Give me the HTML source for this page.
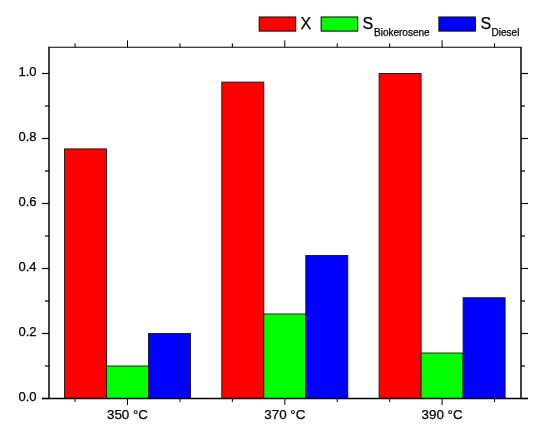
<!DOCTYPE html>
<html><head><meta charset="utf-8"><title>Chart</title>
<style>html,body{margin:0;padding:0;background:#fff;overflow:hidden}</style></head>
<body>
<svg width="550" height="429" viewBox="0 0 550 429" style="display:block">
<rect width="550" height="429" fill="#fff"/>
<rect x="64.50" y="148.90" width="42.00" height="249.60" fill="#ff0000" stroke="#141414" stroke-width="0.9"/>
<rect x="106.50" y="366.00" width="42.00" height="32.50" fill="#00ff00" stroke="#141414" stroke-width="0.9"/>
<rect x="148.50" y="333.50" width="42.00" height="65.00" fill="#0000ff" stroke="#141414" stroke-width="0.9"/>
<rect x="221.80" y="82.11" width="42.00" height="316.39" fill="#ff0000" stroke="#141414" stroke-width="0.9"/>
<rect x="263.80" y="314.00" width="42.00" height="84.50" fill="#00ff00" stroke="#141414" stroke-width="0.9"/>
<rect x="305.80" y="255.50" width="42.00" height="143.00" fill="#0000ff" stroke="#141414" stroke-width="0.9"/>
<rect x="379.10" y="73.50" width="42.00" height="325.00" fill="#ff0000" stroke="#141414" stroke-width="0.9"/>
<rect x="421.10" y="353.00" width="42.00" height="45.50" fill="#00ff00" stroke="#141414" stroke-width="0.9"/>
<rect x="463.10" y="297.75" width="42.00" height="100.75" fill="#0000ff" stroke="#141414" stroke-width="0.9"/>
<g stroke="#000" fill="none">
<line x1="48.25" y1="47.3" x2="521.75" y2="47.3" stroke-width="1.1"/>
<line x1="42" y1="398.5" x2="528" y2="398.5" stroke-width="1.3"/>
<line x1="49" y1="47.3" x2="49" y2="398.5" stroke-width="1.5"/>
<line x1="521" y1="47.3" x2="521" y2="398.5" stroke-width="1.5"/>
<line x1="75.07" y1="47.3" x2="75.07" y2="43.3" stroke-width="1"/>
<line x1="75.07" y1="398.5" x2="75.07" y2="402.0" stroke-width="1"/>
<line x1="127.50" y1="47.3" x2="127.50" y2="40.3" stroke-width="1"/>
<line x1="127.50" y1="398.5" x2="127.50" y2="405.0" stroke-width="1"/>
<line x1="179.93" y1="47.3" x2="179.93" y2="43.3" stroke-width="1"/>
<line x1="179.93" y1="398.5" x2="179.93" y2="402.0" stroke-width="1"/>
<line x1="232.37" y1="47.3" x2="232.37" y2="43.3" stroke-width="1"/>
<line x1="232.37" y1="398.5" x2="232.37" y2="402.0" stroke-width="1"/>
<line x1="284.80" y1="47.3" x2="284.80" y2="40.3" stroke-width="1"/>
<line x1="284.80" y1="398.5" x2="284.80" y2="405.0" stroke-width="1"/>
<line x1="337.23" y1="47.3" x2="337.23" y2="43.3" stroke-width="1"/>
<line x1="337.23" y1="398.5" x2="337.23" y2="402.0" stroke-width="1"/>
<line x1="389.67" y1="47.3" x2="389.67" y2="43.3" stroke-width="1"/>
<line x1="389.67" y1="398.5" x2="389.67" y2="402.0" stroke-width="1"/>
<line x1="442.10" y1="47.3" x2="442.10" y2="40.3" stroke-width="1"/>
<line x1="442.10" y1="398.5" x2="442.10" y2="405.0" stroke-width="1"/>
<line x1="494.53" y1="47.3" x2="494.53" y2="43.3" stroke-width="1"/>
<line x1="494.53" y1="398.5" x2="494.53" y2="402.0" stroke-width="1"/>
<line x1="49" y1="398.50" x2="42" y2="398.50" stroke-width="1.2"/>
<line x1="521" y1="398.50" x2="528" y2="398.50" stroke-width="1.2"/>
<line x1="49" y1="366.00" x2="45" y2="366.00" stroke-width="1.2"/>
<line x1="521" y1="366.00" x2="525" y2="366.00" stroke-width="1.2"/>
<line x1="49" y1="333.50" x2="42" y2="333.50" stroke-width="1.2"/>
<line x1="521" y1="333.50" x2="528" y2="333.50" stroke-width="1.2"/>
<line x1="49" y1="301.00" x2="45" y2="301.00" stroke-width="1.2"/>
<line x1="521" y1="301.00" x2="525" y2="301.00" stroke-width="1.2"/>
<line x1="49" y1="268.50" x2="42" y2="268.50" stroke-width="1.2"/>
<line x1="521" y1="268.50" x2="528" y2="268.50" stroke-width="1.2"/>
<line x1="49" y1="236.00" x2="45" y2="236.00" stroke-width="1.2"/>
<line x1="521" y1="236.00" x2="525" y2="236.00" stroke-width="1.2"/>
<line x1="49" y1="203.50" x2="42" y2="203.50" stroke-width="1.2"/>
<line x1="521" y1="203.50" x2="528" y2="203.50" stroke-width="1.2"/>
<line x1="49" y1="171.00" x2="45" y2="171.00" stroke-width="1.2"/>
<line x1="521" y1="171.00" x2="525" y2="171.00" stroke-width="1.2"/>
<line x1="49" y1="138.50" x2="42" y2="138.50" stroke-width="1.2"/>
<line x1="521" y1="138.50" x2="528" y2="138.50" stroke-width="1.2"/>
<line x1="49" y1="106.00" x2="45" y2="106.00" stroke-width="1.2"/>
<line x1="521" y1="106.00" x2="525" y2="106.00" stroke-width="1.2"/>
<line x1="49" y1="73.50" x2="42" y2="73.50" stroke-width="1.2"/>
<line x1="521" y1="73.50" x2="528" y2="73.50" stroke-width="1.2"/>
</g>
<g font-family="Liberation Sans, Arial, sans-serif" fill="#000" stroke="#000" stroke-width="0.25">
<text x="36.6" y="401.30" font-size="13" text-anchor="end">0.0</text>
<text x="36.6" y="336.30" font-size="13" text-anchor="end">0.2</text>
<text x="36.6" y="271.30" font-size="13" text-anchor="end">0.4</text>
<text x="36.6" y="206.30" font-size="13" text-anchor="end">0.6</text>
<text x="36.6" y="141.30" font-size="13" text-anchor="end">0.8</text>
<text x="36.6" y="76.30" font-size="13" text-anchor="end">1.0</text>
<text x="127.5" y="419.1" font-size="13.4" text-anchor="middle">350 °C</text>
<text x="284.8" y="419.1" font-size="13.4" text-anchor="middle">370 °C</text>
<text x="442.1" y="419.1" font-size="13.4" text-anchor="middle">390 °C</text>
<rect x="259.2" y="17.0" width="36.5" height="14.1" fill="#ff0000" stroke="#141414" stroke-width="1.1"/>
<rect x="321.2" y="17.0" width="36.5" height="14.1" fill="#00ff00" stroke="#141414" stroke-width="1.1"/>
<rect x="438.9" y="17.0" width="36.5" height="14.1" fill="#0000ff" stroke="#141414" stroke-width="1.1"/>
<text x="300.5" y="29.4" font-size="16">X</text>
<text x="362.5" y="29.4" font-size="16">S</text>
<text x="374" y="36.3" font-size="10">Biokerosene</text>
<text x="480.5" y="29.4" font-size="16">S</text>
<text x="491.6" y="36.3" font-size="10">Diesel</text>
</g>
</svg>
</body></html>
